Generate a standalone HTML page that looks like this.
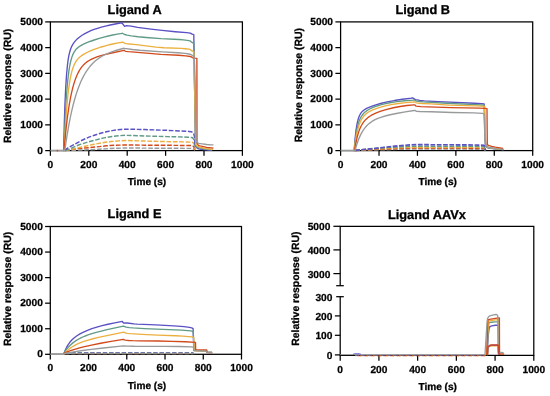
<!DOCTYPE html>
<html><head><meta charset="utf-8"><title>Ligand sensorgrams</title>
<style>
html,body{margin:0;padding:0;background:#fff;}
body{width:550px;height:396px;overflow:hidden;}
svg{display:block;}
text{text-rendering:geometricPrecision;}
.tk{font-family:'Liberation Sans',Arial,sans-serif;font-weight:bold;font-size:10.2px;fill:#000;stroke:#000;stroke-width:0.25px;}
.at{font-family:'Liberation Sans',Arial,sans-serif;font-weight:bold;font-size:10.1px;fill:#000;stroke:#000;stroke-width:0.3px;}
.ti{font-family:'Liberation Sans',Arial,sans-serif;font-weight:bold;font-size:12.75px;fill:#000;stroke:#000;stroke-width:0.3px;}
</style></head><body>
<svg width="550" height="396" viewBox="0 0 550 396">
<rect width="550" height="396" fill="#fff"/>
<rect x="50.4" y="21.9" width="192.0" height="128.7" fill="none" stroke="#000" stroke-width="1.25"/>
<line x1="50.40" y1="150.6" x2="50.40" y2="155.8" stroke="#000" stroke-width="1.25"/>
<text transform="translate(50.40,167.6)" text-anchor="middle" class="tk">0</text>
<line x1="88.80" y1="150.6" x2="88.80" y2="155.8" stroke="#000" stroke-width="1.25"/>
<text transform="translate(88.80,167.6)" text-anchor="middle" class="tk">200</text>
<line x1="127.20" y1="150.6" x2="127.20" y2="155.8" stroke="#000" stroke-width="1.25"/>
<text transform="translate(127.20,167.6)" text-anchor="middle" class="tk">400</text>
<line x1="165.60" y1="150.6" x2="165.60" y2="155.8" stroke="#000" stroke-width="1.25"/>
<text transform="translate(165.60,167.6)" text-anchor="middle" class="tk">600</text>
<line x1="204.00" y1="150.6" x2="204.00" y2="155.8" stroke="#000" stroke-width="1.25"/>
<text transform="translate(204.00,167.6)" text-anchor="middle" class="tk">800</text>
<line x1="242.40" y1="150.6" x2="242.40" y2="155.8" stroke="#000" stroke-width="1.25"/>
<text transform="translate(242.40,167.6)" text-anchor="middle" class="tk">1000</text>
<line x1="45.199999999999996" y1="150.60" x2="50.4" y2="150.60" stroke="#000" stroke-width="1.25"/>
<text transform="translate(43.0,153.75)" text-anchor="end" class="tk">0</text>
<line x1="45.199999999999996" y1="124.86" x2="50.4" y2="124.86" stroke="#000" stroke-width="1.25"/>
<text transform="translate(43.0,128.01)" text-anchor="end" class="tk">1000</text>
<line x1="45.199999999999996" y1="99.12" x2="50.4" y2="99.12" stroke="#000" stroke-width="1.25"/>
<text transform="translate(43.0,102.27)" text-anchor="end" class="tk">2000</text>
<line x1="45.199999999999996" y1="73.38" x2="50.4" y2="73.38" stroke="#000" stroke-width="1.25"/>
<text transform="translate(43.0,76.53)" text-anchor="end" class="tk">3000</text>
<line x1="45.199999999999996" y1="47.64" x2="50.4" y2="47.64" stroke="#000" stroke-width="1.25"/>
<text transform="translate(43.0,50.79)" text-anchor="end" class="tk">4000</text>
<line x1="45.199999999999996" y1="21.90" x2="50.4" y2="21.90" stroke="#000" stroke-width="1.25"/>
<text transform="translate(43.0,25.05)" text-anchor="end" class="tk">5000</text>
<text x="107.6" y="14.0" class="ti">Ligand A</text>
<text transform="translate(11.2,85.9) rotate(-90)" text-anchor="middle" class="at" style="font-size:10.45px">Relative response (RU)</text>
<text x="146.9" y="184.9" text-anchor="middle" class="at">Time (s)</text>
<path d="M65.00,150.50 L87.09,149.83 L98.82,149.26 L109.69,148.51 L118.27,148.17 L125.00,148.00 L125.00,148.00 L191.80,148.40 L192.48,148.53 L193.50,149.00 L194.10,149.41 L195.00,150.30" fill="none" stroke="#989a9c" stroke-width="1.45" stroke-linejoin="round" stroke-dasharray="4.7 1.7"/>
<path d="M65.00,150.50 L77.80,148.60 L92.72,147.31 L106.28,145.84 L109.98,145.55 L115.50,145.28 L125.00,145.00 L125.00,145.00 L180.59,145.41 L191.80,145.60 L192.14,145.65 L192.82,145.97 L193.50,146.50 L193.75,146.82 L194.25,147.92 L195.00,150.30" fill="none" stroke="#d24a1c" stroke-width="1.45" stroke-linejoin="round" stroke-dasharray="4.7 1.7"/>
<path d="M65.00,150.50 L68.35,149.94 L72.11,149.17 L83.98,146.44 L92.76,144.54 L101.92,142.86 L106.87,142.09 L111.21,141.57 L118.87,140.87 L125.00,140.50 L125.00,140.50 L166.20,141.61 L184.18,141.88 L191.80,142.20 L192.13,142.25 L192.80,142.56 L193.47,143.12 L193.93,143.73 L194.37,145.52 L195.00,149.50" fill="none" stroke="#ecb040" stroke-width="1.45" stroke-linejoin="round" stroke-dasharray="4.7 1.7"/>
<path d="M65.00,150.50 L67.60,149.74 L69.75,148.98 L77.40,145.47 L80.87,144.19 L86.78,142.38 L99.36,138.95 L104.20,137.86 L112.12,136.53 L118.26,135.81 L125.00,135.30 L125.00,135.30 L167.12,136.64 L182.66,136.96 L187.53,137.18 L191.80,137.50 L192.30,137.68 L192.80,138.09 L193.55,139.09 L194.03,140.06 L194.68,142.99 L195.50,148.50" fill="none" stroke="#619b86" stroke-width="1.45" stroke-linejoin="round" stroke-dasharray="4.7 1.7"/>
<path d="M64.50,150.50 L65.91,149.27 L68.09,147.84 L80.33,141.08 L85.50,138.60 L88.96,137.18 L92.72,135.78 L96.76,134.44 L101.53,133.03 L105.46,131.96 L108.78,131.20 L112.14,130.60 L116.79,129.93 L121.12,129.43 L125.00,129.10 L125.00,129.10 L145.02,129.58 L165.95,130.28 L185.83,131.18 L188.94,131.42 L191.18,131.73 L192.19,132.11 L193.20,132.80 L193.53,133.31 L193.97,134.61 L194.36,136.29 L194.61,138.22 L195.30,147.30" fill="none" stroke="#5a51c4" stroke-width="1.45" stroke-linejoin="round" stroke-dasharray="4.7 1.7"/>
<path d="M63.60,150.50 L64.33,122.83 L64.95,104.09 L65.67,88.25 L66.50,75.24 L67.43,65.31 L67.94,61.25 L68.53,57.43 L69.17,54.19 L69.85,51.47 L70.63,48.99 L71.53,46.75 L72.64,44.61 L73.98,42.58 L75.59,40.64 L77.42,38.84 L79.67,36.97 L82.10,35.26 L84.81,33.62 L87.84,32.05 L90.80,30.73 L94.07,29.47 L97.53,28.30 L101.33,27.18 L105.49,26.10 L110.22,25.01 L121.60,22.74 L121.60,22.50 L124.60,26.30 L124.60,26.30 L126.43,25.73 L128.65,25.80 L131.12,26.16 L137.59,27.45 L150.92,29.17 L162.14,30.43 L175.31,31.73 L186.63,32.62 L190.30,33.20 L192.20,34.20 L193.80,34.60 L193.80,34.60 L195.50,146.00 L195.50,146.00 L196.73,147.46 L197.46,148.17 L197.95,148.50 L199.13,148.88 L200.98,149.29 L203.45,149.64 L208.24,150.11 L211.80,150.30" fill="none" stroke="#5a51c4" stroke-width="1.35" stroke-linejoin="round"/>
<path d="M63.60,150.50 L63.96,150.50 L64.89,124.99 L65.95,103.79 L66.78,91.46 L67.70,80.95 L68.81,71.63 L69.44,67.50 L70.12,63.88 L70.83,60.74 L71.66,57.82 L72.53,55.36 L73.45,53.30 L74.41,51.58 L75.51,50.02 L76.75,48.63 L78.15,47.39 L79.83,46.19 L81.71,45.09 L84.04,43.94 L86.87,42.71 L90.67,41.24 L94.90,39.76 L99.30,38.39 L103.82,37.11 L108.28,36.00 L112.80,35.00 L117.35,34.12 L122.10,33.34 L122.10,33.20 L124.58,34.49 L127.04,35.16 L131.32,35.93 L138.05,36.75 L146.28,37.54 L160.91,38.67 L179.09,39.53 L183.34,39.86 L187.28,40.32 L189.97,40.80 L191.60,42.20 L192.86,42.86 L193.80,43.20 L193.80,43.20 L195.60,145.50 L195.60,145.50 L196.69,146.70 L197.23,147.15 L198.14,147.56 L199.43,147.96 L203.00,148.69 L205.67,149.13 L209.26,149.55 L212.50,149.80" fill="none" stroke="#619b86" stroke-width="1.35" stroke-linejoin="round"/>
<path d="M63.60,150.50 L64.26,150.50 L65.22,130.48 L66.26,113.79 L67.40,99.92 L68.02,93.93 L68.69,88.36 L69.94,80.06 L70.63,76.48 L71.43,73.00 L72.20,70.19 L73.09,67.49 L74.02,65.15 L75.08,62.98 L76.20,61.12 L77.47,59.41 L78.89,57.86 L80.50,56.43 L82.29,55.11 L84.41,53.81 L86.88,52.50 L89.76,51.17 L93.35,49.70 L97.19,48.30 L101.25,46.98 L105.40,45.78 L109.59,44.72 L113.80,43.78 L118.21,42.95 L122.60,42.26 L122.60,42.20 L125.08,43.34 L126.94,43.71 L136.22,44.64 L156.04,47.13 L163.94,47.76 L181.21,48.45 L185.15,48.76 L188.79,49.17 L189.98,49.38 L190.53,49.72 L191.92,50.92 L193.80,51.80 L193.80,51.80 L195.80,144.50 L195.80,144.50 L196.77,145.69 L197.50,146.30 L198.79,146.89 L200.07,147.31 L203.67,148.20 L206.00,148.66 L209.95,149.12 L212.90,149.30" fill="none" stroke="#ecb040" stroke-width="1.35" stroke-linejoin="round"/>
<path d="M63.60,150.50 L63.99,150.50 L65.66,132.36 L66.56,124.15 L67.51,116.51 L69.00,106.24 L70.62,97.14 L71.59,92.55 L72.54,88.55 L73.56,84.81 L74.63,81.35 L75.75,78.17 L76.94,75.29 L78.17,72.68 L79.57,70.17 L80.82,68.25 L82.23,66.40 L83.70,64.76 L85.22,63.31 L86.92,61.93 L88.69,60.73 L90.66,59.59 L92.84,58.53 L95.11,57.59 L97.61,56.70 L103.56,54.95 L111.58,53.02 L124.10,50.30 L124.10,50.30 L125.06,51.01 L125.70,51.30 L128.49,51.67 L134.69,52.07 L160.91,54.37 L178.48,55.29 L185.75,55.90 L190.30,56.50 L190.92,56.70 L192.48,57.57 L193.10,57.80 L195.17,58.17 L196.90,58.30 L196.90,58.30 L197.00,143.00 L197.00,143.00 L197.75,144.39 L198.31,145.16 L199.14,145.61 L200.11,145.96 L206.67,147.30 L210.26,147.79 L213.50,148.10" fill="none" stroke="#d24a1c" stroke-width="1.35" stroke-linejoin="round"/>
<path d="M50.40,150.50 L63.60,150.50 L63.60,150.50 L64.80,150.50 L66.99,135.74 L69.30,122.51 L70.52,116.41 L71.75,110.79 L73.02,105.48 L74.40,100.25 L75.63,96.00 L76.85,92.17 L78.13,88.48 L79.38,85.20 L80.79,81.84 L82.15,78.88 L83.57,76.09 L85.05,73.47 L86.58,71.02 L88.29,68.57 L90.07,66.30 L91.91,64.22 L93.82,62.31 L95.79,60.57 L97.82,58.98 L100.08,57.43 L102.40,56.02 L104.81,54.75 L107.45,53.52 L110.35,52.34 L113.35,51.27 L116.63,50.23 L120.21,49.24 L124.10,48.26 L124.10,48.30 L132.51,49.52 L139.88,50.25 L162.44,51.87 L177.71,52.74 L185.03,53.43 L189.00,54.00 L190.46,54.41 L191.64,54.97 L193.10,55.90 L194.10,57.00 L194.10,57.00 L194.34,58.88 L194.62,64.87 L195.32,90.72 L196.00,140.00 L196.00,140.00 L196.69,141.95 L196.96,142.47 L197.72,142.90 L198.96,143.33 L200.83,143.70 L206.67,144.50 L210.26,144.72 L213.50,144.80" fill="none" stroke="#989a9c" stroke-width="1.35" stroke-linejoin="round"/>
<circle cx="57.4" cy="150.6" r="0.9" fill="#d24a1c"/>
<rect x="340.6" y="21.9" width="192.10000000000002" height="128.7" fill="none" stroke="#000" stroke-width="1.25"/>
<line x1="340.60" y1="150.6" x2="340.60" y2="155.8" stroke="#000" stroke-width="1.25"/>
<text transform="translate(340.60,167.6)" text-anchor="middle" class="tk">0</text>
<line x1="379.02" y1="150.6" x2="379.02" y2="155.8" stroke="#000" stroke-width="1.25"/>
<text transform="translate(379.02,167.6)" text-anchor="middle" class="tk">200</text>
<line x1="417.44" y1="150.6" x2="417.44" y2="155.8" stroke="#000" stroke-width="1.25"/>
<text transform="translate(417.44,167.6)" text-anchor="middle" class="tk">400</text>
<line x1="455.86" y1="150.6" x2="455.86" y2="155.8" stroke="#000" stroke-width="1.25"/>
<text transform="translate(455.86,167.6)" text-anchor="middle" class="tk">600</text>
<line x1="494.28" y1="150.6" x2="494.28" y2="155.8" stroke="#000" stroke-width="1.25"/>
<text transform="translate(494.28,167.6)" text-anchor="middle" class="tk">800</text>
<line x1="532.70" y1="150.6" x2="532.70" y2="155.8" stroke="#000" stroke-width="1.25"/>
<text transform="translate(532.70,167.6)" text-anchor="middle" class="tk">1000</text>
<line x1="335.40000000000003" y1="150.60" x2="340.6" y2="150.60" stroke="#000" stroke-width="1.25"/>
<text transform="translate(333.0,153.75)" text-anchor="end" class="tk">0</text>
<line x1="335.40000000000003" y1="124.86" x2="340.6" y2="124.86" stroke="#000" stroke-width="1.25"/>
<text transform="translate(333.0,128.01)" text-anchor="end" class="tk">1000</text>
<line x1="335.40000000000003" y1="99.12" x2="340.6" y2="99.12" stroke="#000" stroke-width="1.25"/>
<text transform="translate(333.0,102.27)" text-anchor="end" class="tk">2000</text>
<line x1="335.40000000000003" y1="73.38" x2="340.6" y2="73.38" stroke="#000" stroke-width="1.25"/>
<text transform="translate(333.0,76.53)" text-anchor="end" class="tk">3000</text>
<line x1="335.40000000000003" y1="47.64" x2="340.6" y2="47.64" stroke="#000" stroke-width="1.25"/>
<text transform="translate(333.0,50.79)" text-anchor="end" class="tk">4000</text>
<line x1="335.40000000000003" y1="21.90" x2="340.6" y2="21.90" stroke="#000" stroke-width="1.25"/>
<text transform="translate(333.0,25.05)" text-anchor="end" class="tk">5000</text>
<text x="395.4" y="14.0" class="ti">Ligand B</text>
<text transform="translate(301.9,85.1) rotate(-90)" text-anchor="middle" class="at" style="font-size:10.45px">Relative response (RU)</text>
<text x="437.7" y="185.3" text-anchor="middle" class="at">Time (s)</text>
<path d="M354.00,150.50 L401.00,149.20 L414.39,149.00 L463.05,149.01 L484.00,149.20 L484.60,149.48 L485.50,150.30" fill="none" stroke="#989a9c" stroke-width="1.6" stroke-dasharray="4.7 1.6" stroke-dashoffset="-1.2"/>
<path d="M354.00,150.50 L371.13,149.60 L397.35,148.43 L406.78,148.11 L414.70,148.00 L463.05,148.02 L484.00,148.30 L484.43,148.58 L485.50,150.30" fill="none" stroke="#d24a1c" stroke-width="1.6" stroke-dasharray="4.7 1.6" stroke-dashoffset="-1.2"/>
<path d="M354.00,150.50 L371.74,149.10 L390.04,148.05 L403.74,147.41 L414.70,147.20 L463.05,147.21 L484.00,147.40 L484.17,147.47 L484.50,147.93 L485.50,150.30" fill="none" stroke="#ecb040" stroke-width="1.6" stroke-dasharray="4.7 1.6" stroke-dashoffset="-1.2"/>
<path d="M354.00,150.50 L367.60,149.04 L379.09,148.06 L401.00,146.61 L408.30,146.30 L414.70,146.20 L463.05,146.21 L484.00,146.40 L484.25,146.60 L484.50,147.11 L485.50,150.30" fill="none" stroke="#619b86" stroke-width="1.6" stroke-dasharray="4.7 1.6" stroke-dashoffset="-1.2"/>
<path d="M354.00,150.50 L375.50,148.40 L386.96,146.94 L394.70,146.14 L409.77,144.86 L416.20,144.60 L468.82,144.91 L484.00,145.20 L484.19,145.35 L484.47,146.03 L485.50,150.30" fill="none" stroke="#5a51c4" stroke-width="1.6" stroke-dasharray="4.7 1.6" stroke-dashoffset="-1.2"/>
<path d="M353.80,150.50 L354.16,150.50 L354.97,139.90 L355.89,131.22 L356.62,126.23 L357.43,122.07 L358.47,118.26 L359.01,116.74 L359.64,115.28 L360.31,114.02 L361.02,112.93 L361.84,111.90 L362.78,110.95 L364.01,109.96 L365.40,109.06 L367.07,108.17 L369.05,107.27 L371.49,106.32 L374.34,105.33 L380.55,103.51 L387.16,101.94 L394.34,100.54 L402.41,99.26 L411.60,98.07 L411.60,98.00 L412.50,98.00 L413.13,98.16 L415.10,99.30 L415.80,99.60 L419.80,100.30 L424.42,100.80 L438.28,101.67 L474.31,103.23 L481.60,103.70 L484.20,104.00 L484.20,104.00 L484.69,124.94 L485.22,141.09 L485.40,144.00 L485.62,145.16 L485.96,146.25 L486.30,146.80 L487.25,147.54 L488.20,147.90 L489.48,148.20 L494.33,148.85 L503.50,149.70" fill="none" stroke="#5a51c4" stroke-width="1.35" stroke-linejoin="round"/>
<path d="M353.80,150.50 L354.19,150.50 L355.19,140.73 L356.33,132.68 L357.28,127.73 L358.30,123.70 L358.89,121.82 L359.58,119.96 L360.32,118.29 L361.10,116.81 L361.93,115.50 L362.89,114.24 L363.90,113.12 L365.05,112.06 L366.54,110.91 L368.31,109.78 L370.20,108.76 L372.43,107.73 L374.92,106.73 L377.56,105.80 L380.50,104.90 L383.48,104.11 L389.75,102.75 L396.80,101.63 L404.48,100.75 L413.20,100.06 L413.20,100.00 L414.75,100.20 L416.15,100.99 L416.50,101.10 L419.56,101.54 L422.93,101.86 L450.61,103.53 L476.13,104.65 L481.60,105.00 L484.40,105.30 L484.40,105.30 L484.84,126.33 L485.30,140.52 L485.49,143.70 L485.73,144.92 L486.06,145.97 L486.40,146.50 L487.35,147.23 L487.98,147.50 L489.31,147.85 L495.67,148.74 L503.50,149.50" fill="none" stroke="#619b86" stroke-width="1.35" stroke-linejoin="round"/>
<path d="M353.80,150.50 L354.18,150.50 L355.36,141.58 L356.71,134.00 L357.78,129.36 L358.99,125.28 L359.75,123.19 L360.50,121.43 L361.29,119.81 L362.14,118.35 L363.03,117.04 L364.05,115.76 L365.13,114.63 L366.26,113.62 L367.73,112.53 L369.28,111.57 L371.13,110.60 L373.19,109.69 L375.50,108.81 L378.18,107.91 L384.31,106.21 L391.14,104.70 L398.32,103.47 L405.58,102.57 L413.20,101.96 L413.20,102.00 L414.40,101.80 L414.75,101.87 L416.15,102.78 L416.50,102.90 L419.25,103.26 L422.62,103.54 L430.88,103.94 L449.07,105.06 L475.52,105.90 L481.60,106.20 L484.60,106.50 L484.60,106.50 L485.05,126.81 L485.51,140.49 L485.69,143.40 L485.93,144.61 L486.26,145.67 L486.60,146.20 L487.55,146.93 L488.50,147.30 L489.79,147.64 L496.67,148.74 L503.50,149.40" fill="none" stroke="#ecb040" stroke-width="1.35" stroke-linejoin="round"/>
<path d="M353.80,150.50 L354.52,150.50 L355.74,143.49 L357.07,137.54 L358.55,132.38 L359.36,130.08 L360.19,128.05 L361.83,124.77 L362.69,123.36 L363.67,121.95 L364.71,120.66 L365.81,119.48 L366.96,118.41 L368.27,117.34 L369.84,116.24 L371.60,115.18 L373.57,114.14 L375.76,113.14 L378.20,112.15 L380.91,111.18 L386.90,109.35 L393.35,107.77 L400.04,106.49 L406.88,105.52 L414.00,104.83 L414.00,104.80 L414.70,104.90 L415.00,105.07 L415.90,106.05 L416.20,106.20 L420.79,106.57 L450.91,107.63 L479.05,108.15 L485.40,108.40 L487.00,108.60 L487.00,108.60 L487.30,144.80 L487.30,144.80 L489.19,145.69 L491.75,146.42 L495.33,147.15 L503.00,148.40" fill="none" stroke="#d24a1c" stroke-width="1.35" stroke-linejoin="round"/>
<path d="M340.60,150.50 L353.80,150.50 L353.80,150.50 L355.00,150.50 L356.68,144.72 L358.51,139.57 L360.45,135.14 L361.51,133.08 L362.60,131.21 L364.55,128.36 L366.72,125.80 L369.02,123.63 L371.63,121.67 L374.57,119.93 L377.88,118.40 L381.57,117.05 L385.97,115.76 L391.32,114.48 L397.60,113.22 L405.29,111.87 L414.00,110.51 L414.00,110.60 L415.10,110.50 L415.45,110.62 L416.15,111.16 L416.50,111.30 L419.87,111.51 L431.19,111.78 L452.13,112.46 L473.69,112.93 L482.50,113.40 L484.00,113.80 L484.00,113.80 L484.57,128.48 L485.21,140.48 L485.50,143.06 L485.80,144.40 L486.20,145.45 L486.87,146.22 L487.43,146.63 L488.33,147.03 L489.67,147.42 L496.11,148.62 L503.80,149.60" fill="none" stroke="#989a9c" stroke-width="1.35" stroke-linejoin="round"/>
<rect x="50.3" y="226.5" width="191.2" height="127.80000000000001" fill="none" stroke="#000" stroke-width="1.25"/>
<line x1="50.30" y1="354.3" x2="50.30" y2="359.5" stroke="#000" stroke-width="1.25"/>
<text transform="translate(50.30,371.4)" text-anchor="middle" class="tk">0</text>
<line x1="88.54" y1="354.3" x2="88.54" y2="359.5" stroke="#000" stroke-width="1.25"/>
<text transform="translate(88.54,371.4)" text-anchor="middle" class="tk">200</text>
<line x1="126.78" y1="354.3" x2="126.78" y2="359.5" stroke="#000" stroke-width="1.25"/>
<text transform="translate(126.78,371.4)" text-anchor="middle" class="tk">400</text>
<line x1="165.02" y1="354.3" x2="165.02" y2="359.5" stroke="#000" stroke-width="1.25"/>
<text transform="translate(165.02,371.4)" text-anchor="middle" class="tk">600</text>
<line x1="203.26" y1="354.3" x2="203.26" y2="359.5" stroke="#000" stroke-width="1.25"/>
<text transform="translate(203.26,371.4)" text-anchor="middle" class="tk">800</text>
<line x1="241.50" y1="354.3" x2="241.50" y2="359.5" stroke="#000" stroke-width="1.25"/>
<text transform="translate(241.50,371.4)" text-anchor="middle" class="tk">1000</text>
<line x1="45.099999999999994" y1="354.30" x2="50.3" y2="354.30" stroke="#000" stroke-width="1.25"/>
<text transform="translate(42.8,357.45)" text-anchor="end" class="tk">0</text>
<line x1="45.099999999999994" y1="328.74" x2="50.3" y2="328.74" stroke="#000" stroke-width="1.25"/>
<text transform="translate(42.8,331.89)" text-anchor="end" class="tk">1000</text>
<line x1="45.099999999999994" y1="303.18" x2="50.3" y2="303.18" stroke="#000" stroke-width="1.25"/>
<text transform="translate(42.8,306.33)" text-anchor="end" class="tk">2000</text>
<line x1="45.099999999999994" y1="277.62" x2="50.3" y2="277.62" stroke="#000" stroke-width="1.25"/>
<text transform="translate(42.8,280.77)" text-anchor="end" class="tk">3000</text>
<line x1="45.099999999999994" y1="252.06" x2="50.3" y2="252.06" stroke="#000" stroke-width="1.25"/>
<text transform="translate(42.8,255.21)" text-anchor="end" class="tk">4000</text>
<line x1="45.099999999999994" y1="226.50" x2="50.3" y2="226.50" stroke="#000" stroke-width="1.25"/>
<text transform="translate(42.8,229.65)" text-anchor="end" class="tk">5000</text>
<text x="107.6" y="217.9" class="ti">Ligand E</text>
<text transform="translate(11.3,288.9) rotate(-90)" text-anchor="middle" class="at" style="font-size:10.45px">Relative response (RU)</text>
<text x="146.9" y="389.0" text-anchor="middle" class="at">Time (s)</text>
<path d="M64.5,352.6 L193.5,352.6" fill="none" stroke="#5a51c4" stroke-width="1.0" stroke-dasharray="4.4 1.9" stroke-dashoffset="-0.5"/>
<path d="M64.5,353.4 L193.5,353.4" fill="none" stroke="#ecb040" stroke-width="1.0" stroke-dasharray="4.4 1.9" stroke-dashoffset="-0.5"/>
<path d="M64.5,353.6 L193.5,353.6" fill="none" stroke="#d24a1c" stroke-width="1.0" stroke-dasharray="4.4 1.9" stroke-dashoffset="-0.5"/>
<path d="M64.5,353.2 L193.5,353.2" fill="none" stroke="#619b86" stroke-width="1.0" stroke-dasharray="4.4 1.9" stroke-dashoffset="-0.5"/>
<path d="M64.5,353.8 L193.5,353.8" fill="none" stroke="#989a9c" stroke-width="1.0" stroke-dasharray="4.4 1.9" stroke-dashoffset="-0.5"/>
<path d="M63.79,354.20 L65.12,350.59 L66.55,347.44 L68.18,344.58 L70.00,342.04 L72.05,339.74 L74.31,337.68 L76.95,335.73 L79.97,333.87 L83.54,332.04 L87.46,330.34 L91.88,328.71 L96.81,327.14 L102.15,325.66 L108.06,324.24 L114.75,322.80 L122.30,321.34 L122.30,321.30 L123.05,322.55 L123.55,323.03 L123.80,323.10 L125.30,322.90 L127.19,322.98 L134.11,323.92 L137.22,324.17 L155.79,324.87 L169.42,325.55 L177.59,326.09 L183.95,326.67 L189.43,327.35 L191.74,327.95 L193.10,328.60 L193.10,328.60 L193.80,350.40 L193.80,350.40 L206.00,350.90 L206.00,350.90 L206.60,352.03 L207.00,352.40 L212.00,352.50" fill="none" stroke="#5a51c4" stroke-width="1.35" stroke-linejoin="round"/>
<path d="M63.80,354.20 L64.03,353.27 L64.34,352.47 L65.49,350.64 L67.89,347.63 L70.50,344.93 L72.88,342.87 L75.53,340.94 L78.33,339.23 L81.42,337.63 L84.58,336.25 L88.00,334.96 L91.81,333.70 L96.20,332.43 L101.22,331.11 L107.10,329.69 L123.30,326.11 L123.30,326.10 L124.97,326.74 L126.30,327.10 L129.43,327.55 L133.18,327.90 L144.22,328.56 L181.52,330.13 L190.90,330.90 L193.20,331.50 L193.20,331.50 L194.20,350.60 L194.20,350.60 L206.00,350.90 L206.00,350.90 L206.60,352.03 L207.00,352.40 L212.00,352.50" fill="none" stroke="#619b86" stroke-width="1.35" stroke-linejoin="round"/>
<path d="M63.80,354.20 L65.25,352.46 L67.08,350.68 L69.22,348.91 L71.53,347.28 L73.92,345.82 L76.54,344.44 L79.36,343.16 L82.45,341.94 L85.59,340.86 L89.10,339.79 L93.02,338.73 L97.36,337.66 L108.15,335.30 L123.80,332.20 L123.80,332.20 L125.94,333.12 L127.86,333.41 L130.37,333.65 L142.09,334.37 L157.91,335.18 L175.76,335.79 L182.72,336.13 L191.80,336.90 L193.60,337.50 L193.60,337.50 L194.40,350.60 L194.40,350.60 L206.00,351.00 L206.00,351.00 L206.75,352.25 L207.00,352.40 L212.00,352.50" fill="none" stroke="#ecb040" stroke-width="1.35" stroke-linejoin="round"/>
<path d="M63.80,354.20 L64.08,353.43 L64.48,352.96 L65.08,352.62 L66.60,352.04 L70.43,350.69 L74.50,349.40 L78.82,348.16 L83.42,346.95 L91.54,345.07 L100.59,343.23 L111.09,341.33 L123.30,339.33 L123.30,339.30 L124.63,339.92 L125.30,340.10 L128.76,340.47 L132.54,340.70 L139.04,340.85 L158.21,341.03 L171.82,341.30 L185.43,341.75 L195.50,342.30 L195.50,342.30 L195.70,349.90 L195.70,349.90 L206.80,350.00 L206.80,350.00 L207.20,352.50 L212.30,352.60" fill="none" stroke="#d24a1c" stroke-width="1.35" stroke-linejoin="round"/>
<path d="M50.30,354.20 L63.80,354.20 L63.80,354.20 L64.04,353.84 L64.36,353.59 L65.49,353.26 L73.59,351.89 L82.63,350.54 L91.40,349.37 L101.06,348.21 L123.30,345.86 L123.30,345.80 L127.88,346.09 L134.44,346.29 L163.96,346.32 L179.09,346.50 L191.80,346.90 L193.60,347.30 L193.60,347.30 L194.20,350.60 L194.20,350.60 L206.00,351.00 L206.00,351.00 L206.75,352.15 L207.00,352.30 L209.32,352.45 L212.30,352.50" fill="none" stroke="#989a9c" stroke-width="1.35" stroke-linejoin="round"/>
<path d="M340.2,285.7 L340.2,226.3 L533.8,226.3 L533.8,355.4 L340.2,355.4 L340.2,296.7" fill="none" stroke="#000" stroke-width="1.25"/>
<line x1="336.2" y1="285.7" x2="343.8" y2="285.7" stroke="#000" stroke-width="1.25"/>
<line x1="336.2" y1="296.7" x2="343.8" y2="296.7" stroke="#000" stroke-width="1.25"/>
<line x1="340.20" y1="355.4" x2="340.20" y2="360.7" stroke="#000" stroke-width="1.25"/>
<text transform="translate(340.20,372.7)" text-anchor="middle" class="tk">0</text>
<line x1="378.92" y1="355.4" x2="378.92" y2="360.7" stroke="#000" stroke-width="1.25"/>
<text transform="translate(378.92,372.7)" text-anchor="middle" class="tk">200</text>
<line x1="417.64" y1="355.4" x2="417.64" y2="360.7" stroke="#000" stroke-width="1.25"/>
<text transform="translate(417.64,372.7)" text-anchor="middle" class="tk">400</text>
<line x1="456.36" y1="355.4" x2="456.36" y2="360.7" stroke="#000" stroke-width="1.25"/>
<text transform="translate(456.36,372.7)" text-anchor="middle" class="tk">600</text>
<line x1="495.08" y1="355.4" x2="495.08" y2="360.7" stroke="#000" stroke-width="1.25"/>
<text transform="translate(495.08,372.7)" text-anchor="middle" class="tk">800</text>
<line x1="533.80" y1="355.4" x2="533.80" y2="360.7" stroke="#000" stroke-width="1.25"/>
<text transform="translate(533.80,372.7)" text-anchor="middle" class="tk">1000</text>
<line x1="333.4" y1="226.3" x2="340.2" y2="226.3" stroke="#000" stroke-width="1.25"/>
<text transform="translate(330.3,230.40)" text-anchor="end" class="tk">5000</text>
<line x1="333.4" y1="249.9" x2="340.2" y2="249.9" stroke="#000" stroke-width="1.25"/>
<text transform="translate(330.3,254.00)" text-anchor="end" class="tk">4000</text>
<line x1="333.4" y1="273.6" x2="340.2" y2="273.6" stroke="#000" stroke-width="1.25"/>
<text transform="translate(330.3,277.70)" text-anchor="end" class="tk">3000</text>
<text transform="translate(332.4,300.80)" text-anchor="end" class="tk">300</text>
<line x1="334.9" y1="315.9" x2="340.2" y2="315.9" stroke="#000" stroke-width="1.25"/>
<text transform="translate(332.4,320.00)" text-anchor="end" class="tk">200</text>
<line x1="334.9" y1="335.3" x2="340.2" y2="335.3" stroke="#000" stroke-width="1.25"/>
<text transform="translate(332.4,339.40)" text-anchor="end" class="tk">100</text>
<line x1="334.9" y1="354.9" x2="340.2" y2="354.9" stroke="#000" stroke-width="1.25"/>
<text transform="translate(332.4,359.00)" text-anchor="end" class="tk">0</text>
<text x="388.0" y="219.1" class="ti">Ligand AAVx</text>
<text transform="translate(298.8,288.7) rotate(-90)" text-anchor="middle" class="at" style="font-size:10.45px">Relative response (RU)</text>
<text x="437.7" y="389.6" text-anchor="middle" class="at">Time (s)</text>
<path d="M487.20,355.10 L487.72,344.14 L488.21,336.33 L488.77,330.57 L489.30,327.30 L489.30,327.30 L490.50,326.38 L491.79,325.91 L495.50,325.27 L498.30,325.20 L498.30,325.20 L498.60,354.80" fill="none" stroke="#5a51c4" stroke-width="1.35" stroke-linejoin="round"/>
<path d="M487.00,355.10 L487.50,342.04 L488.00,332.24 L488.49,325.99 L489.00,322.70 L489.00,322.70 L491.67,322.26 L494.73,321.92 L498.40,321.80 L498.40,321.80 L498.70,354.80" fill="none" stroke="#619b86" stroke-width="1.35" stroke-linejoin="round"/>
<path d="M486.90,355.10 L487.78,334.42 L488.26,326.31 L488.70,320.90 L488.70,320.90 L495.42,319.85 L498.60,319.60 L498.60,319.60 L498.90,354.80" fill="none" stroke="#ecb040" stroke-width="1.35" stroke-linejoin="round"/>
<path d="M486.80,355.10 L487.40,331.07 L487.70,323.73 L488.00,319.70 L488.00,319.70 L496.79,318.09 L498.68,317.90 L499.40,318.00 L499.40,318.00 L499.50,354.30 L499.50,354.30 L501.00,354.00 L502.78,354.03 L504.20,354.20" fill="none" stroke="#d24a1c" stroke-width="1.35" stroke-linejoin="round"/>
<path d="M485.00,354.80 L486.99,323.09 L487.28,320.14 L487.60,318.47 L487.80,318.00 L487.80,318.00 L488.52,316.89 L489.00,316.40 L490.05,315.85 L491.46,315.39 L493.64,314.87 L496.00,314.50 L496.75,314.71 L497.50,315.20 L497.50,315.20 L497.75,316.31 L497.94,319.33 L498.20,352.20 L498.20,352.20 L501.25,352.33 L503.70,352.90" fill="none" stroke="#989a9c" stroke-width="1.35" stroke-linejoin="round"/>
<path d="M487.9,355 L488.3,347.3 L491.1,346.0 L497.2,345.8 L498.5,346.3" fill="none" stroke="#ecb040" stroke-width="1.2" stroke-linejoin="round"/>
<path d="M487.6,355 L488,346.9 L489.5,345.8 L491.1,345.4 L497.2,345.2 L498.2,345.8 L498.5,354.5" fill="none" stroke="#5a51c4" stroke-width="1.2" stroke-linejoin="round"/>
<path d="M487.3,355 L487.8,346.7 L489.5,345.4 L491.1,345.0 L497.2,344.8 L498.6,345.3 L499.0,354.5" fill="none" stroke="#d24a1c" stroke-width="1.3" stroke-linejoin="round"/>
<path d="M355,355.7 L486,355.7" fill="none" stroke="#ecb040" stroke-width="1.0" stroke-dasharray="4 2.5" stroke-dashoffset="1.5" stroke-opacity="0.8"/>
<path d="M355,355.8 L486,355.8" fill="none" stroke="#d24a1c" stroke-width="1.0" stroke-dasharray="4 2.5" stroke-dashoffset="4.0" stroke-opacity="0.8"/>
<path d="M355,355.2 L486,355.2" fill="none" stroke="#5a51c4" stroke-width="1.0" stroke-dasharray="4 2.5" stroke-dashoffset="0" stroke-opacity="0.8"/>
<path d="M340.2,354.6 L485.5,354.6" fill="none" stroke="#989a9c" stroke-width="0.9"/>
<path d="M353,354.4 L354.5,353.7 L359.5,353.7 L361,354.4" fill="none" stroke="#5a51c4" stroke-width="1.0" stroke-opacity="0.85"/>
</svg>
</body></html>
